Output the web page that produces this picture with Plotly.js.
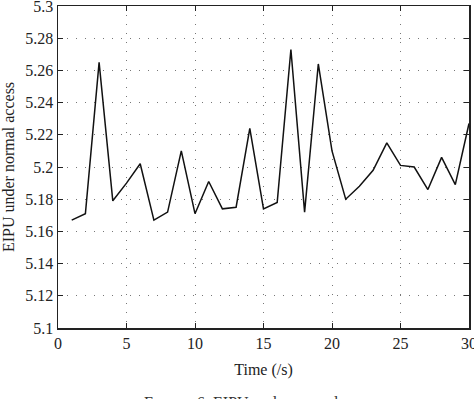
<!DOCTYPE html>
<html>
<head>
<meta charset="utf-8">
<script src="https://cdn.plot.ly/plotly-3.0.1.min.js"></script>
<style>
html,body{margin:0;padding:0;background:#fff;}
#chart{width:474px;height:399px;}
</style>
</head>
<body>
<div id="chart"></div>
<script>
var timeSec = [1,2,3,4,5,6,7,8,9,10,11,12,13,14,15,16,17,18,19,20,21,22,23,24,25,26,27,28,29,30];
var eipu = [5.167,5.171,5.265,5.179,5.190,5.202,5.167,5.172,5.210,5.171,
            5.191,5.174,5.175,5.224,5.174,5.178,5.273,5.172,5.264,5.210,
            5.180,5.188,5.198,5.215,5.201,5.200,5.186,5.206,5.189,5.227];
var xTickVals = [0,5,10,15,20,25,30];
var xTickText = ["0","5","10","15","20","25","30"];
var yTickVals = [5.1,5.12,5.14,5.16,5.18,5.2,5.22,5.24,5.26,5.28,5.3];
var yTickText = ["5.1","5.12","5.14","5.16","5.18","5.2","5.22","5.24","5.26","5.28","5.3"];

var serif = "Liberation Serif, DejaVu Serif, serif";

var trace = {
  x: timeSec, y: eipu, type: 'scatter', mode: 'lines',
  line: {color: '#111', width: 1.5}, hoverinfo: 'skip', showlegend: false, cliponaxis: false
};

var layout = {
  width: 474, height: 399,
  margin: {l: 58, r: 5, t: 6, b: 71},
  paper_bgcolor: '#fff', plot_bgcolor: '#fff',
  font: {family: serif, size: 16, color: '#222'},
  xaxis: {
    range: [0, 30], tickvals: xTickVals, ticktext: xTickText,
    ticks: 'inside', ticklen: 5, tickcolor: '#222', tickwidth: 1,
    showline: true, linecolor: '#222', linewidth: 1.5, mirror: 'ticks',
    showgrid: true, gridcolor: '#777', griddash: '1px,8px', gridwidth: 1,
    zeroline: false, fixedrange: true, ticklabeloverflow: 'allow',
    title: {text: 'Time (/s)', font: {family: serif, size: 16, color: '#222'}, standoff: 13}
  },
  yaxis: {
    range: [5.1, 5.3], tickvals: yTickVals, ticktext: yTickText,
    ticks: 'inside', ticklen: 5, tickcolor: '#222', tickwidth: 1,
    showline: true, linecolor: '#222', linewidth: 1.5, mirror: 'ticks',
    showgrid: true, gridcolor: '#777', griddash: '1px,8px', gridwidth: 1,
    zeroline: false, fixedrange: true, ticklabeloverflow: 'allow',
    title: {text: 'EIPU under normal access', font: {family: serif, size: 16, color: '#222'}, standoff: 7}
  },
  annotations: [{
    xref: 'paper', yref: 'paper', x: 0.5, y: -0.2, xanchor: 'center', yanchor: 'top',
    showarrow: false,
    text: "F<span style='font-size:13px'>IGURE</span> 6: EIPU under normal access",
    font: {family: serif, size: 16, color: '#333'}
  }]
};

Plotly.newPlot('chart', [trace], layout, {staticPlot: true, displayModeBar: false});
</script>
</body>
</html>
